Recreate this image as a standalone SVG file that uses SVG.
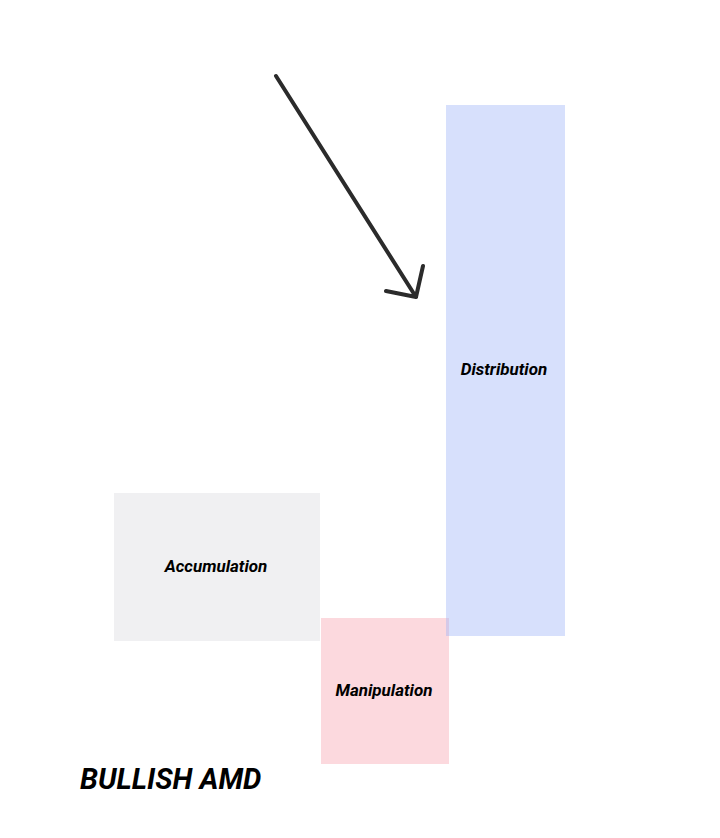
<svg xmlns="http://www.w3.org/2000/svg" width="720" height="838" viewBox="0 0 720 838">
<style>
.lbl{font-family:Roboto,"Liberation Sans",sans-serif;font-weight:bold;font-style:italic;font-size:17px;fill:#000;text-anchor:middle}
.title{font-family:Roboto,"Liberation Sans",sans-serif;font-weight:bold;font-style:italic;font-size:29px;fill:#000}
.arr{stroke:#2b2b2b;stroke-width:4;stroke-linecap:round;stroke-linejoin:round;fill:none}
</style>
<rect width="720" height="838" fill="#fff"/>
<g id="accumulation">
<rect x="114" y="493" width="206" height="148" fill="#f0f0f2"/>
<text class="lbl" x="216" y="572">Accumulation</text>
</g>
<g id="manipulation">
<rect x="321" y="618" width="128" height="146" fill="#fcd9de"/>
<text class="lbl" x="384" y="696">Manipulation</text>
</g>
<g id="distribution">
<rect x="446" y="105" width="119" height="531" fill="#9bb1f7" fill-opacity="0.4"/>
<text class="lbl" x="504" y="375">Distribution</text>
</g>
<g id="connectors">
<path class="arr" d="M276,76 L416,297 M386,291 L416,297 L423,266"/>
</g>
<g id="title">
<text class="title" x="80" y="789">BULLISH AMD</text>
</g>
</svg>
